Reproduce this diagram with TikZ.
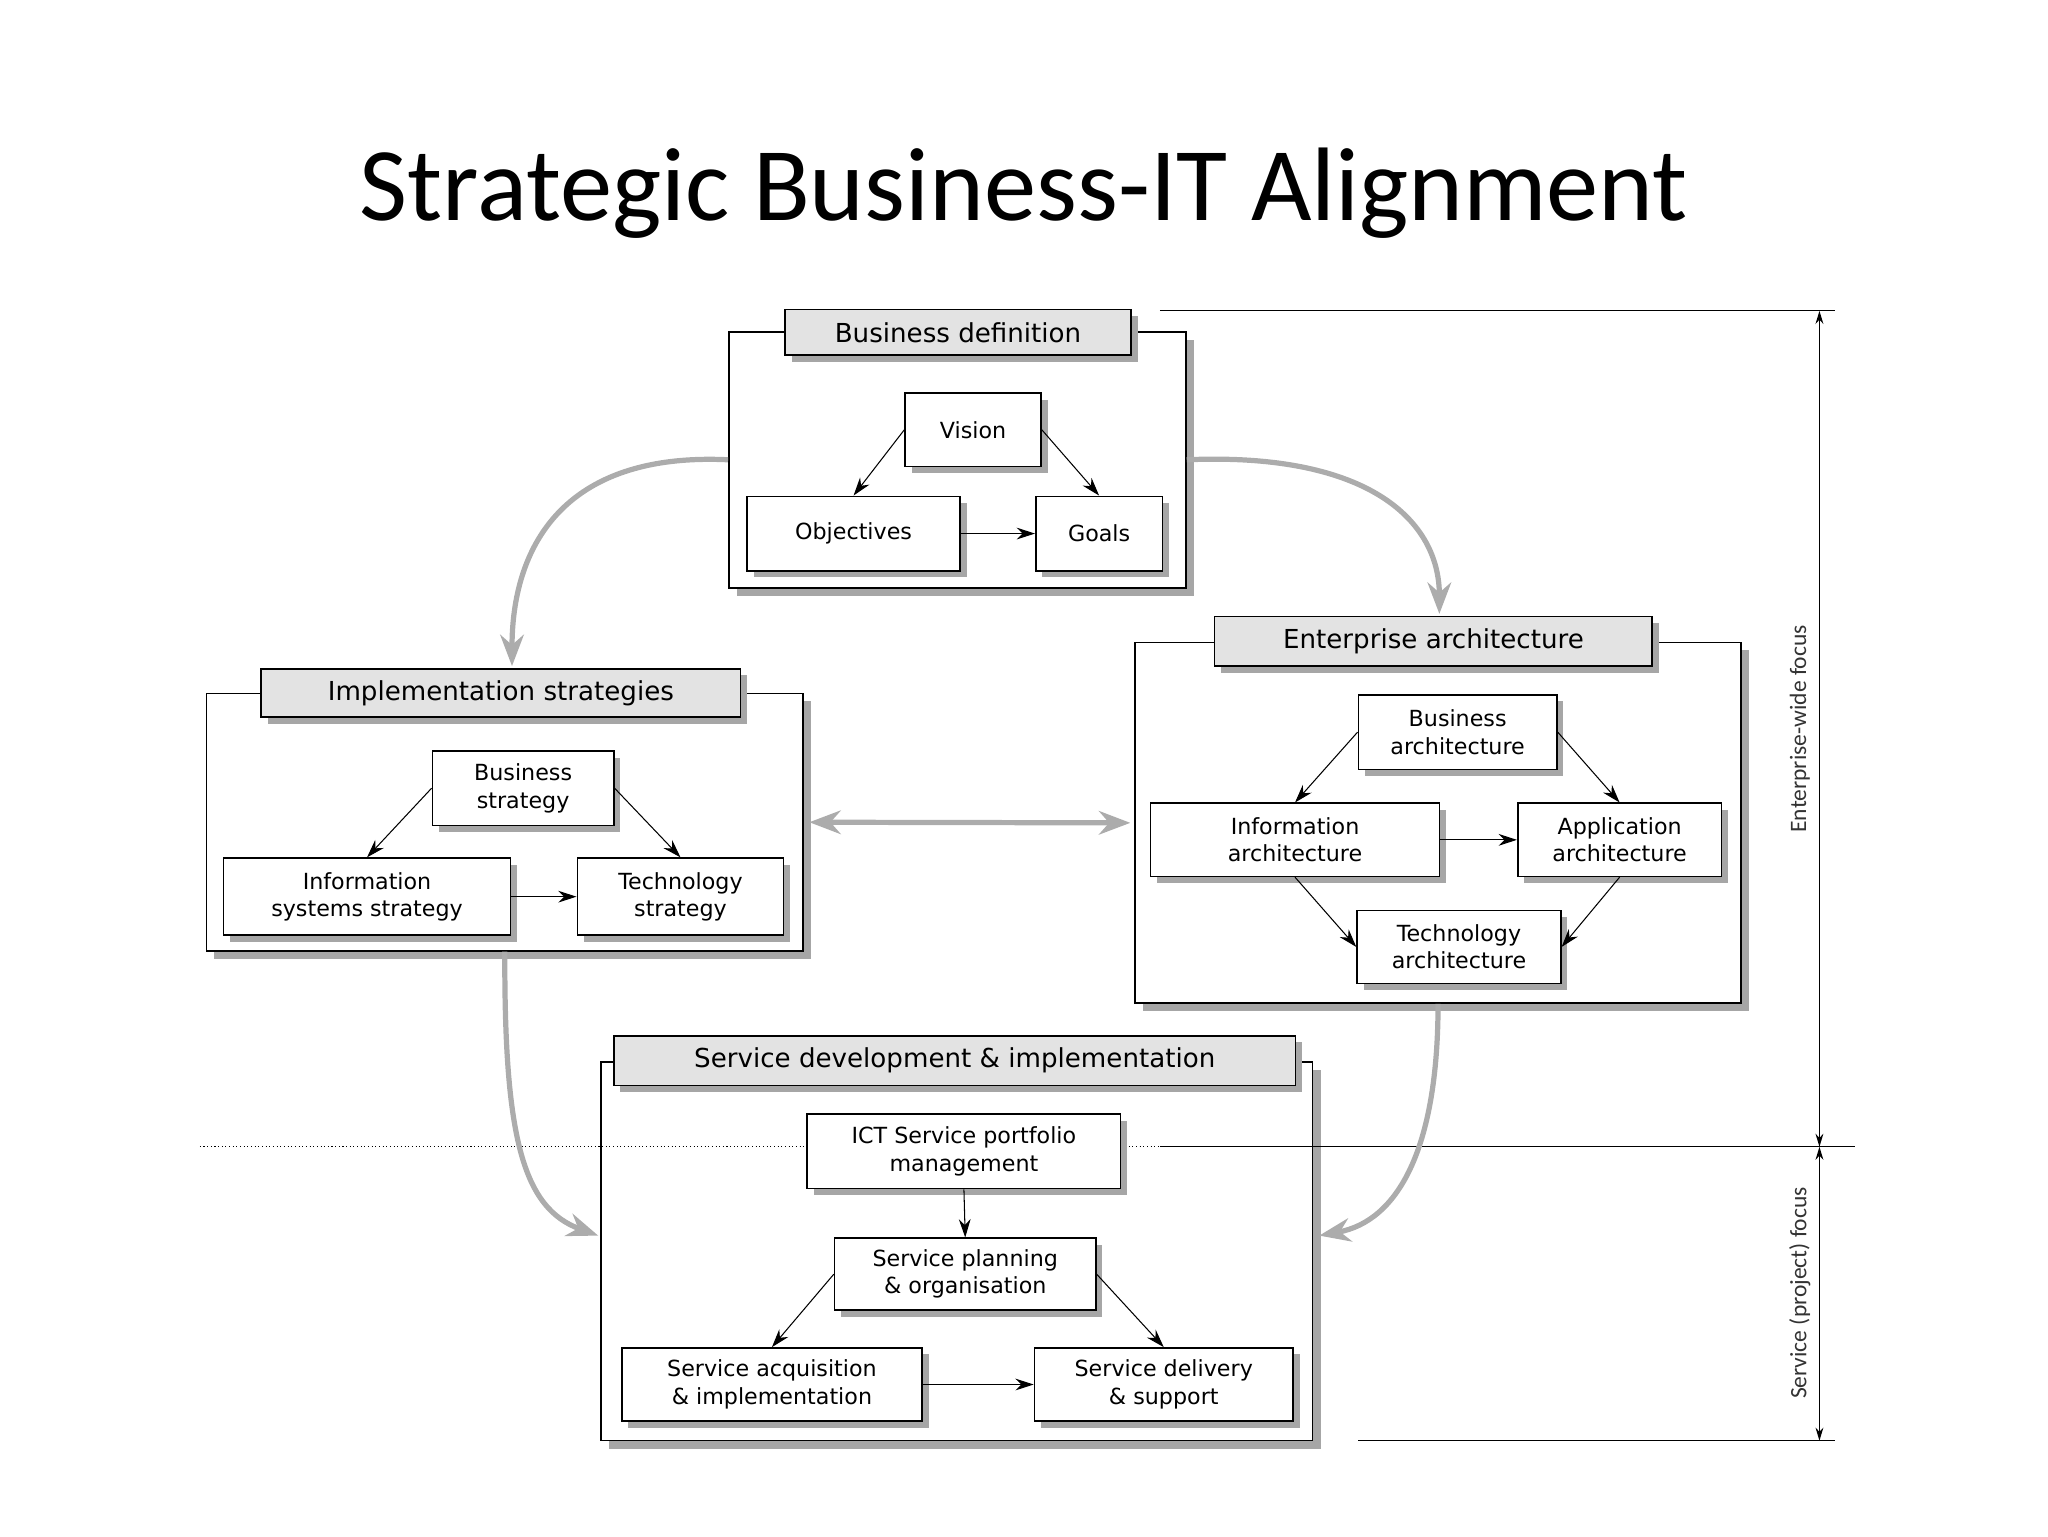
\documentclass[tikz,border=0pt]{standalone}
\usepackage{fontspec}
\setmainfont{DejaVu Sans}
\newfontfamily\titlefont{Carlito}
\usetikzlibrary{arrows.meta,shadows}
\begin{document}
\begin{tikzpicture}[x=1pt,y=-1pt,
  bx/.style={draw=black,line width=1.2pt,fill=white,align=center,inner sep=2pt,
    font=\fontsize{17}{21}\selectfont,
    drop shadow={shadow xshift=5pt,shadow yshift=-5pt,fill=gray!70,opacity=1}},
  outer/.style={draw=black,line width=1.2pt,fill=white,
    drop shadow={shadow xshift=6pt,shadow yshift=-6pt,fill=gray!70,opacity=1}},
  lbl/.style={draw=black,line width=1.2pt,fill=gray!22,font=\fontsize{20}{24}\selectfont,
    drop shadow={shadow xshift=5pt,shadow yshift=-5pt,fill=gray!70,opacity=1}},
  ar/.style={-{Stealth[length=14pt,width=9pt]},line width=0.8pt},
  big/.style={-{Stealth[length=24pt,width=18pt]},line width=4pt,draw=gray!65},
  dim/.style={{Stealth[length=10pt,width=6pt]}-{Stealth[length=10pt,width=6pt]},line width=1pt}]
\useasboundingbox (0,0) rectangle (1568,1176);
\node[font=\titlefont\fontsize{80}{90}\selectfont] (title) at (784,148) {Strategic Business-IT Alignment};
% outer boxes
\node[outer,minimum width=350pt,minimum height=196pt] (bd) at (733,352) {};
\node[outer,minimum width=457pt,minimum height=197pt] (impl) at (386.5,629.5) {};
\node[outer,minimum width=464pt,minimum height=276pt] (ea) at (1101,630) {};
\node[outer,minimum width=545pt,minimum height=290pt] (sd) at (732.5,958) {};
% labels
\node[lbl,minimum width=265pt,minimum height=35pt] (bdl) at (733.5,254.5) {Business definition};
\node[lbl,minimum width=367pt,minimum height=37pt] (impll) at (383.5,530.5) {Implementation strategies};
\node[lbl,minimum width=335pt,minimum height=38pt] (eal) at (1097.5,491) {Enterprise architecture};
\node[lbl,minimum width=522pt,minimum height=38pt] (sdl) at (731,812) {Service development \& implementation};
% dashed/solid horizontal lines
\coordinate (d1) at (153,878); \coordinate (d2) at (888,878); \coordinate (d3) at (1420,878);
\draw[dotted,line width=0.8pt] (d1) -- (d2);
\draw[line width=0.8pt] (d2) -- (d3);
% inner boxes
\node[bx,minimum width=104pt,minimum height=56pt] (vis) at (745,329) {Vision};
\node[bx,minimum width=163pt,minimum height=57pt] (obj) at (653.5,408.5) {Objectives};
\node[bx,minimum width=97pt,minimum height=57pt] (goa) at (841.5,408.5) {Goals};
\node[bx,minimum width=139pt,minimum height=57pt] (bs) at (400.5,603.5) {Business\\strategy};
\node[bx,minimum width=220pt,minimum height=59pt] (iss) at (281,686.5) {Information\\systems strategy};
\node[bx,minimum width=158pt,minimum height=59pt] (ts) at (521,686.5) {Technology\\strategy};
\node[bx,minimum width=152pt,minimum height=57pt] (ba) at (1116,560.5) {Business\\architecture};
\node[bx,minimum width=221pt,minimum height=56pt] (ia) at (991.5,643) {Information\\architecture};
\node[bx,minimum width=156pt,minimum height=56pt] (aa) at (1240,643) {Application\\architecture};
\node[bx,minimum width=156pt,minimum height=56pt] (ta) at (1117,725) {Technology\\architecture};
\node[bx,minimum width=240pt,minimum height=57pt] (ict) at (738,881.5) {ICT Service portfolio\\management};
\node[bx,minimum width=200pt,minimum height=55pt] (sp) at (739,975.5) {Service planning\\\& organisation};
\node[bx,minimum width=230pt,minimum height=56pt] (sa) at (591,1060) {Service acquisition\\\& implementation};
\node[bx,minimum width=198pt,minimum height=56pt] (sdv) at (891,1060) {Service delivery\\\& support};
% thin arrows
\draw[ar] (vis.west) -- (obj.north);
\draw[ar] (vis.east) -- (goa.north);
\draw[ar] (obj.east) -- (goa.west);
\draw[ar] (bs.west) -- (iss.north);
\draw[ar] (bs.east) -- (ts.north);
\draw[ar] (iss.east) -- (ts.west);
\draw[ar] (ba.west) -- (ia.north);
\draw[ar] (ba.east) -- (aa.north);
\draw[ar] (ia.east) -- (aa.west);
\draw[ar] (ia.south) -- (ta.west);
\draw[ar] (aa.south) -- (ta.east);
\draw[ar] (ict.south) -- (sp.north);
\draw[ar] (sp.west) -- (sa.north);
\draw[ar] (sp.east) -- (sdv.north);
\draw[ar] (sa.east) -- (sdv.west);
% big arrows
\coordinate (t1) at (392,510);
\coordinate (t2) at (1102,470);
\coordinate (t3) at (458,946);
\coordinate (t4) at (1010,946);
\draw[big] (bd.west) .. controls (430,346) and (392,420) .. (t1);
\draw[big] (bd.east) .. controls (1050,346) and (1102,400) .. (t2);
\draw[big,{Stealth[length=24pt,width=18pt]}-{Stealth[length=24pt,width=18pt]},shorten <=4pt,shorten >=3pt] (impl.east) -- (ea.west);
\draw[big] (impl.south) .. controls (386,870) and (400,925) .. (t3);
\draw[big] (ea.south) .. controls (1101,880) and (1070,935) .. (t4);
% dimension
\coordinate (r1) at (888,238); \coordinate (r2) at (1405,238);
\coordinate (r3) at (1040,1103); \coordinate (r4) at (1405,1103);
\coordinate (v1) at (1393,238); \coordinate (v2) at (1393,878); \coordinate (v3) at (1393,1103);
\draw[line width=0.8pt] (r1) -- (r2);
\draw[line width=0.8pt] (r3) -- (r4);
\draw[dim] (v1) -- (v2);
\draw[dim] (v2) -- (v3);
\node[rotate=90,font=\titlefont\fontsize{18}{20}\selectfont,text=black!80] (ef) at (1378,558) {Enterprise-wide focus};
\node[rotate=90,font=\titlefont\fontsize{18}{20}\selectfont,text=black!80] (sf) at (1378,990) {Service (project) focus};
\end{tikzpicture}
\end{document}
